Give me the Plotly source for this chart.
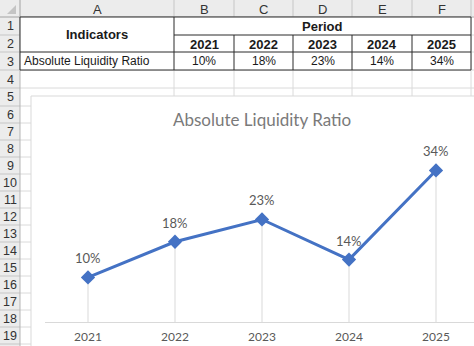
import plotly.graph_objects as go

# ---------------- data ----------------
years = ["2021", "2022", "2023", "2024", "2025"]
ratios = [0.10, 0.18, 0.23, 0.14, 0.34]
indicator = "Absolute Liquidity Ratio"
col_letters = ["A", "B", "C", "D", "E", "F"]
row_numbers = list(range(1, 20))
chart_title = "Absolute Liquidity Ratio"

W, H = 474, 346
def X(x): return x / W
def Y(y): return 1 - y / H

col_b = [20, 174, 234, 293, 352, 412, 471]
row_b = [17, 35, 52, 70, 88, 106, 123, 140, 157, 174, 191, 208, 225, 242, 259, 276, 293, 310, 327, 344]

shapes = []
annotations = []
GRID = "#dadada"
HDR_BG = "#ececec"
HDR_LINE = "#c6c6c6"
DARK = "#2b2b2b"
SSFONT = "Liberation Sans"

def line(x0, y0, x1, y1, color, width=1):
    shapes.append(dict(type="line", xref="paper", yref="paper", x0=X(x0), y0=Y(y0), x1=X(x1), y1=Y(y1),
                       line=dict(color=color, width=width), layer="below"))

def rect(x0, y0, x1, y1, fill, lc=None, lw=0):
    shapes.append(dict(type="rect", xref="paper", yref="paper", x0=X(x0), y0=Y(y0), x1=X(x1), y1=Y(y1),
                       fillcolor=fill, line=dict(color=lc or fill, width=lw), layer="below"))

def text(x, y, s, size=12, color="#1a1a1a", bold=False, xanchor="center", font=SSFONT):
    annotations.append(dict(x=X(x), y=Y(y), xref="paper", yref="paper", text=f"<b>{s}</b>" if bold else s,
                            showarrow=False, xanchor=xanchor, yanchor="middle",
                            font=dict(family=font, size=size, color=color)))

# background
rect(0, 0, W, H, "white")
# cell gridlines
for xb in col_b[1:]:
    line(xb, row_b[0], xb, H, GRID)
for yb in row_b:
    line(col_b[0], yb, W, yb, GRID)

# headers
rect(0, 0, W, row_b[0], HDR_BG)
rect(0, 0, col_b[0], H, HDR_BG)
for xb in col_b:
    line(xb, 0, xb, row_b[0], HDR_LINE)
for yb in row_b:
    line(0, yb, col_b[0], yb, HDR_LINE)
line(0, row_b[0], W, row_b[0], "#b5b5b5")
line(col_b[0], 0, col_b[0], H, "#b5b5b5")
shapes.append(dict(type="path", xref="paper", yref="paper",
                   path=f"M {X(16)} {Y(5)} L {X(16)} {Y(14)} L {X(7)} {Y(14)} Z",
                   fillcolor="#c4c4c4", line=dict(width=0), layer="below"))
for i, c in enumerate(col_letters):
    text((col_b[i] + col_b[i + 1]) / 2, 9, c, size=13, color="#333333")
for i, r in enumerate(row_numbers):
    text(10, (row_b[i] + row_b[i + 1]) / 2 + 0.5, str(r), size=12.5, color="#333333")

# table borders
rect(col_b[0], row_b[0], col_b[-1], row_b[3], "white")
line(col_b[0], row_b[0], col_b[-1], row_b[0], DARK)
line(col_b[0], row_b[3], col_b[-1], row_b[3], DARK)
line(col_b[0], row_b[2], col_b[-1], row_b[2], DARK)
line(col_b[1], row_b[1], col_b[-1], row_b[1], DARK)
line(col_b[0], row_b[0], col_b[0], row_b[3], DARK)
line(col_b[1], row_b[0], col_b[1], row_b[3], DARK)
line(col_b[-1], row_b[0], col_b[-1], row_b[3], DARK)
for xb in col_b[2:-1]:
    line(xb, row_b[1], xb, row_b[3], DARK)

text((col_b[0] + col_b[1]) / 2, (row_b[0] + row_b[2]) / 2, "Indicators", size=13, bold=True)
text((col_b[1] + col_b[-1]) / 2, (row_b[0] + row_b[1]) / 2, "Period", size=13, bold=True)
for i, yr in enumerate(years):
    text((col_b[i + 1] + col_b[i + 2]) / 2, (row_b[1] + row_b[2]) / 2 + 0.5, yr, size=13, bold=True)
    text((col_b[i + 1] + col_b[i + 2]) / 2, (row_b[2] + row_b[3]) / 2, f"{round(ratios[i]*100)}%", size=12)
text(col_b[0] + 2, (row_b[2] + row_b[3]) / 2, indicator, size=12, xanchor="left")

# chart area
rect(31, 96, W + 2, H + 2, "white", lc="#d9d9d9", lw=1)

CHART_FONT = "Lato"
annotations.append(dict(x=X(262), y=Y(119), xref="paper", yref="paper", text=chart_title, showarrow=False,
                        xanchor="center", yanchor="middle",
                        font=dict(family=CHART_FONT, size=17, color="#7a7a7a")))

# drop lines built from data
dx, dy = [], []
for yr, v in zip(years, ratios):
    dx += [yr, yr, None]
    dy += [0, v, None]

fig = go.Figure()
fig.add_trace(go.Scatter(x=dx, y=dy, mode="lines", line=dict(color="#d9d9d9", width=1),
                         hoverinfo="skip", showlegend=False))
fig.add_trace(go.Scatter(x=years, y=ratios, mode="lines+markers",
                         line=dict(color="#4472C4", width=3),
                         marker=dict(symbol="diamond", size=11, color="#4472C4"),
                         showlegend=False))
for i, v in enumerate(ratios):
    annotations.append(dict(x=i, y=v, xref="x", yref="y", text=f"{round(v*100)}%", showarrow=False,
                            yshift=19, font=dict(family=CHART_FONT, size=13, color="#595959")))

x0px = 44.5
fig.update_layout(
    width=W, height=H, margin=dict(l=0, r=0, t=0, b=0),
    paper_bgcolor="white", plot_bgcolor="rgba(0,0,0,0)",
    shapes=shapes, annotations=annotations,
    xaxis=dict(type="category", domain=[X(x0px), 1], range=[-0.5, (W - 88) / 87],
               showgrid=False, zeroline=False, showline=True, linecolor="#d9d9d9", linewidth=1,
               ticks="", tickfont=dict(family=CHART_FONT, size=12, color="#595959"), ticklabelstandoff=4),
    yaxis=dict(domain=[Y(322), Y(322 - 0.4 * 445.8)], range=[0, 0.4], visible=False),
    showlegend=False,
)
fig.write_html("out.html")
